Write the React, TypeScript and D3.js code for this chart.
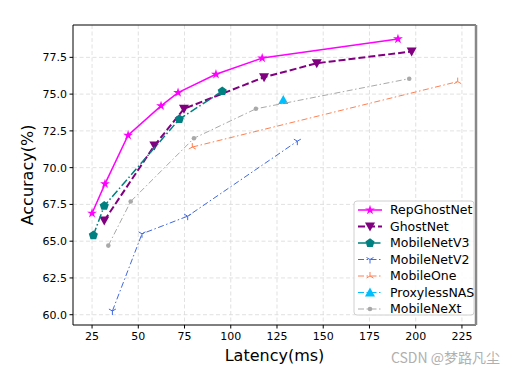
import React from 'react';
import * as d3 from 'd3';

// latency (ms) / top-1 accuracy (%)
const repGhostLat = [25, 32, 44.5, 62.3, 71.5, 92, 117, 190.4];
const repGhostAcc = [66.9, 68.9, 72.2, 74.2, 75.1, 76.35, 77.45, 78.75];
const ghostLat = [31.6, 58.7, 74.7, 118, 146.5, 197.8];
const ghostAcc = [66.4, 71.5, 74.0, 76.15, 77.1, 77.9];
const mnv3Lat = [25.7, 31.6, 72.2, 95.4];
const mnv3Acc = [65.4, 67.4, 73.3, 75.2];
const mnv2Lat = [36, 52, 76.7, 136];
const mnv2Acc = [60.25, 65.5, 66.7, 71.8];
const mobileOneLat = [79.2, 222.7];
const mobileOneAcc = [71.4, 75.85];
const proxylessLat = [128.4];
const proxylessAcc = [74.6];
const nextLat = [33.8, 45.9, 80.1, 113.6, 196.5];
const nextAcc = [64.7, 67.7, 72.0, 74.0, 76.05];

const xTicks = [25, 50, 75, 100, 125, 150, 175, 200, 225];
const yTicks = [60, 62.5, 65, 67.5, 70, 72.5, 75, 77.5];

type Marker = 'star' | 'tdown' | 'pent' | 'tri_up' | 'tri_down' | 'tup' | 'dot';
interface Series { name: string; lat: number[]; acc: number[]; color: string; dash: string; width: number; marker: Marker; ms: number; }

const series: Series[] = [
  { name: 'RepGhostNet', lat: repGhostLat, acc: repGhostAcc, color: '#ff00ff', dash: '', width: 1.5, marker: 'star', ms: 3.4 },
  { name: 'GhostNet', lat: ghostLat, acc: ghostAcc, color: '#800080', dash: '7 3', width: 2, marker: 'tdown', ms: 5 },
  { name: 'MobileNetV3', lat: mnv3Lat, acc: mnv3Acc, color: '#008080', dash: '8 2.5 1.5 2.5', width: 1.5, marker: 'pent', ms: 4.8 },
  { name: 'MobileNetV2', lat: mnv2Lat, acc: mnv2Acc, color: '#4169e1', dash: '6 2.5 1.5 2.5', width: 1, marker: 'tri_up', ms: 4 },
  { name: 'MobileOne', lat: mobileOneLat, acc: mobileOneAcc, color: '#ff7f50', dash: '6 2.5 1.5 2.5', width: 1, marker: 'tri_down', ms: 4 },
  { name: 'ProxylessNAS', lat: proxylessLat, acc: proxylessAcc, color: '#00bfff', dash: '6 2.5 1.5 2.5', width: 1, marker: 'tup', ms: 5 },
  { name: 'MobileNeXt', lat: nextLat, acc: nextAcc, color: '#a9a9a9', dash: '6 2.5 1.5 2.5', width: 1, marker: 'dot', ms: 2.3 },
];

function markerEl(m: Marker, cx: number, cy: number, r: number, color: string, key: string) {
  const poly = (pts: [number, number][]) => pts.map(p => `${cx + p[0]},${cy + p[1]}`).join(' ');
  switch (m) {
    case 'star': {
      const path = d3.symbol(d3.symbolStar, r * r * 2.6)();
      return <path key={key} d={path as string} transform={`translate(${cx},${cy})`} fill={color} />;
    }
    case 'tdown':
      return <polygon key={key} points={poly([[-r, -r * 0.8], [r, -r * 0.8], [0, r]])} fill={color} />;
    case 'tup':
      return <polygon key={key} points={poly([[-r, r * 0.8], [r, r * 0.8], [0, -r]])} fill={color} />;
    case 'pent': {
      const pts: [number, number][] = d3.range(5).map(i => {
        const a = -Math.PI / 2 + i * 2 * Math.PI / 5;
        return [r * Math.cos(a), r * Math.sin(a)] as [number, number];
      });
      return <polygon key={key} points={poly(pts)} fill={color} />;
    }
    case 'tri_up':
    case 'tri_down': {
      const s = m === 'tri_up' ? -1 : 1;
      const d = `M${cx},${cy}L${cx},${cy - s * r}M${cx},${cy}L${cx - r * 0.87},${cy + s * r * 0.5}M${cx},${cy}L${cx + r * 0.87},${cy + s * r * 0.5}`;
      return <path key={key} d={d} stroke={color} strokeWidth={1} fill="none" />;
    }
    default:
      return <circle key={key} cx={cx} cy={cy} r={r} fill={color} />;
  }
}

const App: React.FC = () => {
  const width = 516;
  const height = 370;
  const margin = { top: 25, right: 40, bottom: 45, left: 73 };
  const x = d3.scaleLinear().domain([14.7, 232.6]).range([margin.left, width - margin.right]);
  const y = d3.scaleLinear().domain([59.3, 79.7]).range([height - margin.bottom, margin.top]);
  const font = 'DejaVu Sans, sans-serif';
  const line = d3.line<[number, number]>().x(d => x(d[0])).y(d => y(d[1]));

  const lg = { x: 354, y: 201, w: 120, h: 114 };

  return (
    <svg width={width} height={height} style={{ position: 'absolute', left: 0, top: 0, background: '#fff' }} fontFamily={font}>
      {/* grid */}
      {xTicks.map(t => (
        <line key={'gx' + t} x1={x(t)} x2={x(t)} y1={margin.top} y2={height - margin.bottom} stroke="#d9d9d9" strokeDasharray="4 2.5" strokeWidth={0.8} />
      ))}
      {yTicks.map(t => (
        <line key={'gy' + t} x1={margin.left} x2={width - margin.right} y1={y(t)} y2={y(t)} stroke="#d9d9d9" strokeDasharray="4 2.5" strokeWidth={0.8} />
      ))}

      {/* series */}
      {series.map(s => {
        const pts = s.lat.map((v, i) => [v, s.acc[i]] as [number, number]);
        return (
          <g key={s.name}>
            {pts.length > 1 && (
              <path d={line(pts) as string} fill="none" stroke={s.color} strokeWidth={s.width} strokeDasharray={s.dash} />
            )}
            {pts.map((p, i) => markerEl(s.marker, x(p[0]), y(p[1]), s.ms, s.color, s.name + i))}
          </g>
        );
      })}

      {/* frame */}
      <line x1={margin.left} x2={width - margin.right} y1={margin.top} y2={margin.top} stroke="#000" strokeWidth={1} />
      <line x1={margin.left} x2={margin.left} y1={margin.top} y2={height - margin.bottom} stroke="#000" strokeWidth={1} />
      <line x1={margin.left} x2={width - margin.right} y1={height - margin.bottom} y2={height - margin.bottom} stroke="#000" strokeWidth={1} />
      <line x1={width - margin.right} x2={width - margin.right} y1={margin.top} y2={height - margin.bottom} stroke="#888" strokeWidth={2.5} />

      {/* ticks */}
      {xTicks.map(t => (
        <g key={'tx' + t}>
          <line x1={x(t)} x2={x(t)} y1={height - margin.bottom} y2={height - margin.bottom + 3.5} stroke="#000" />
          <text x={x(t)} y={height - margin.bottom + 15} fontSize={11} textAnchor="middle">{t}</text>
        </g>
      ))}
      {yTicks.map(t => (
        <g key={'ty' + t}>
          <line x1={margin.left - 3.5} x2={margin.left} y1={y(t)} y2={y(t)} stroke="#000" />
          <text x={margin.left - 6} y={y(t) + 4} fontSize={11} textAnchor="end">{t.toFixed(1)}</text>
        </g>
      ))}

      <text x={(margin.left + width - margin.right) / 2} y={361} fontSize={16} textAnchor="middle">Latency(ms)</text>
      <text transform={`translate(33,${(margin.top + height - margin.bottom) / 2}) rotate(-90)`} fontSize={16} textAnchor="middle">Accuracy(%)</text>

      {/* legend */}
      <rect x={lg.x} y={lg.y} width={lg.w} height={lg.h} rx={3} fill="#fff" fillOpacity={0.85} stroke="#d0d0d0" />
      {series.map((s, i) => {
        const cy = lg.y + 9 + i * 16.5;
        return (
          <g key={'lg' + s.name}>
            <line x1={lg.x + 4} x2={lg.x + 28} y1={cy} y2={cy} stroke={s.color} strokeWidth={s.width} strokeDasharray={s.dash} />
            {markerEl(s.marker, lg.x + 16, cy, s.ms, s.color, 'lgm' + i)}
            <text x={lg.x + 36} y={cy + 4} fontSize={12.5}>{s.name}</text>
          </g>
        );
      })}

      <text x={500} y={363} fontSize={14} textAnchor="end" fill="#b0b0b0" fontFamily="Noto Sans CJK SC, sans-serif">CSDN @梦路凡尘</text>
    </svg>
  );
};

export default App;
